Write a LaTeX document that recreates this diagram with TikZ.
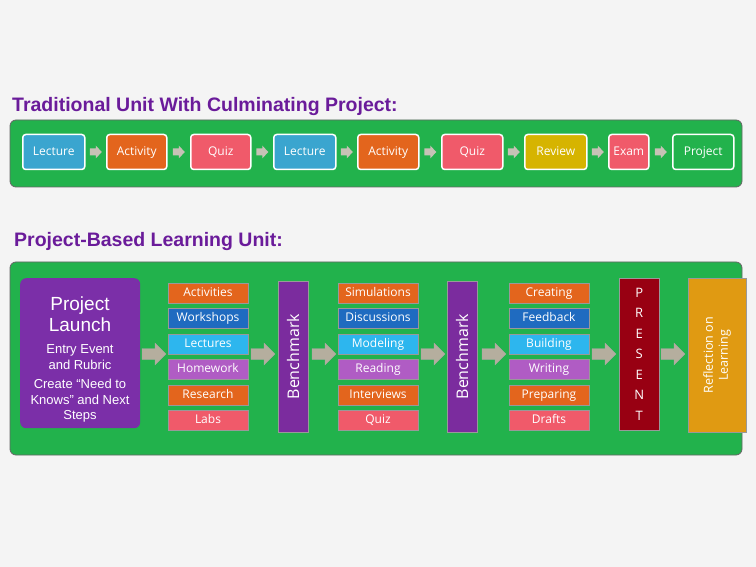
\documentclass[tikz,border=0pt]{standalone}
\usepackage{fontspec}
\setmainfont{Liberation Sans}
\newfontfamily\opsans{Open Sans}
\definecolor{bgc}{HTML}{F4F4F4}
\definecolor{grn}{HTML}{22B24C}
\definecolor{ttl}{HTML}{6A1B9A}
\definecolor{org}{HTML}{E3651D}
\definecolor{dblu}{HTML}{1F6BC0}
\definecolor{lblu}{HTML}{2DB6EE}
\definecolor{prp}{HTML}{B05CC4}
\definecolor{red}{HTML}{F05A6A}
\definecolor{lec}{HTML}{3AA5CF}
\definecolor{rev}{HTML}{D6B400}
\definecolor{plaunch}{HTML}{7B2FA8}
\definecolor{bench}{HTML}{7B2C9E}
\definecolor{pres}{HTML}{980012}
\definecolor{refl}{HTML}{E09A12}
\definecolor{arr}{HTML}{B5AE9E}
\tikzset{
 band/.style={fill=grn,draw=black!60,rounded corners=6pt,line width=0.8pt},
 tbox/.style={draw=white,line width=1.5pt,rounded corners=3pt,text=white,font=\opsans\fontsize{12}{13}\selectfont,text height=1.6ex,text depth=.4ex,minimum height=35pt,anchor=west,inner sep=0pt},
 cbox/.style={draw=black!40,line width=0.4pt,text=white,font=\opsans\fontsize{12}{13}\selectfont,text height=1.6ex,text depth=.4ex,minimum width=80pt,minimum height=20pt,inner sep=0pt},
 vbox/.style={draw=black!40,line width=0.4pt,text=white,anchor=north west,inner sep=0pt},
 title/.style={text=ttl,font=\bfseries\fontsize{19.5}{21}\selectfont,anchor=west,inner sep=0pt},
 pics/sarr/.style={code={\fill[arr!75!white] (-6,-3.5) -- (0,-3.5) -- (0,-6.5) -- (6,0) -- (0,6.5) -- (0,3.5) -- (-6,3.5) -- cycle;}},
 pics/barr/.style={code={\filldraw[fill=arr,draw=black!35,line width=0.3pt] (-12,-5.5) -- (1,-5.5) -- (1,-11) -- (12,0) -- (1,11) -- (1,5.5) -- (-12,5.5) -- cycle;}}
}
\begin{document}
\begin{tikzpicture}[x=1pt,y=-1pt]
\useasboundingbox (0,0) rectangle (756,567);
\fill[bgc] (0,0) rectangle (756,567);
\node[title] (t1) at (12,107) {Traditional Unit With Culminating Project:};
\draw[band] (10,120) rectangle (742,187);
\foreach \n/\x/\w/\c/\t in {a/22/62/lec/Lecture,b/106/60/org/Activity,c/190/60/red/Quiz,d/273/62/lec/Lecture,e/357/61/org/Activity,f/441/61/red/Quiz,g/524/62/rev/Review,h/608/40/red/Exam,i/672/61/grn/Project}{
 \node[tbox,fill=\c,minimum width=\w pt] (\n) at (\x,152) {\t};
}
\foreach \p/\q in {a/b,b/c,c/d,d/e,e/f,f/g,g/h,h/i}{
 \path (\p.east) -- (\q.west) coordinate[midway] (m\p);
 \pic at (m\p) {sarr};
}
\node[title] (t2) at (14,242) {Project-Based Learning Unit:};
\draw[band] (10,262) rectangle (742,455);
\node[vbox,fill=plaunch,rounded corners=6pt,minimum width=120pt,minimum height=150pt,draw=none] (pl) at (20,278) {};
\node[text=white,align=center,font=\fontsize{19}{21}\selectfont] (pl1) at (80,314) {Project\\Launch};
\node[text=white,align=center,font=\fontsize{13}{15.5}\selectfont] (pl2) at (80,357) {Entry Event\\and Rubric};
\node[text=white,align=center,font=\fontsize{13}{15.5}\selectfont] (pl3) at (80,401) {Create “Need to\\Knows” and Next\\Steps};
\foreach \cx/\k/\lst in {208/A/{org/Activities,dblu/Workshops,lblu/Lectures,prp/Homework,org/Research,red/Labs},378/B/{org/Simulations,dblu/Discussions,lblu/Modeling,prp/Reading,org/Interviews,red/Quiz},549/C/{org/Creating,dblu/Feedback,lblu/Building,prp/Writing,org/Preparing,red/Drafts}}{
 \foreach \c/\t [count=\i] in \lst {
  \node[cbox,fill=\c] (\k\i) at (\cx,{293+25.5*(\i-1)}) {\t};
 }
}
\node[vbox,fill=bench,minimum width=30pt,minimum height=151pt] (bm1) at (278,281) {};
\node[text=white,rotate=90,font=\opsans\fontsize{16}{17}\selectfont] (bt1) at (bm1.center) {Benchmark};
\node[vbox,fill=bench,minimum width=30pt,minimum height=151pt] (bm2) at (447,281) {};
\node[text=white,rotate=90,font=\opsans\fontsize{16}{17}\selectfont] (bt2) at (bm2.center) {Benchmark};
\node[vbox,fill=pres,minimum width=40pt,minimum height=152pt] (pr) at (619,278) {};
\node[text=white,align=center,font=\opsans\fontsize{13}{20.5}\selectfont] (prt) at (pr.center) {P\\R\\E\\S\\E\\N\\T};
\node[vbox,fill=refl,minimum width=58pt,minimum height=154pt] (rf) at (688,278) {};
\node[text=white,rotate=90,align=center,font=\opsans\fontsize{12.5}{15}\selectfont] (rft) at (rf.center) {Reflection on\\Learning};
\foreach \x in {154,263,324,433,494,604,673}{
 \pic at (\x,354) {barr};
}
\end{tikzpicture}
\end{document}
